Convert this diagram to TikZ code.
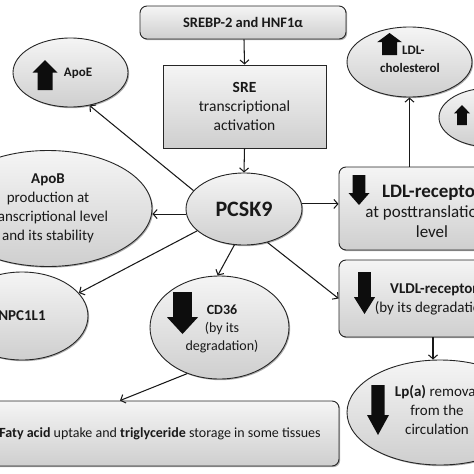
\documentclass[tikz,border=0pt]{standalone}
\usepackage{fontspec}
\setmainfont{Carlito}
\usetikzlibrary{shapes.geometric,arrows.meta,shadows}
\newcommand\fsz[2]{\fontsize{#1}{#2}\selectfont}
\begin{document}
\begin{tikzpicture}[x=1pt,y=-1pt,
  box/.style={draw=black!85, line width=0.9pt, top color=gray!8, bottom color=gray!38,
    drop shadow={shadow xshift=1.2pt,shadow yshift=-1.2pt,opacity=0.45,fill=black!70},
    inner sep=0pt, text=black!90, align=center},
  rbox/.style={box, rounded corners=7pt},
  ell/.style={ellipse, box},
  arr/.style={-{Straight Barb[length=4pt,width=9pt]}, line width=1.05pt, draw=black!90},
  txt/.style={text=black!90, align=center, inner sep=0pt},
  uparr/.pic={\fill[black!95] (0,0) -- (0.5,0.42) -- (0.3,0.42) -- (0.3,1) -- (-0.3,1) -- (-0.3,0.42) -- (-0.5,0.42) -- cycle;},
  dnarr/.pic={\fill[black!95] (0,1) -- (0.5,0.6) -- (0.3,0.6) -- (0.3,0) -- (-0.3,0) -- (-0.3,0.6) -- (-0.5,0.6) -- cycle;}
]
\useasboundingbox (0,0) rectangle (474,474);
\fill[white] (0,0) rectangle (474,474);
\clip (0,0) rectangle (474,474);

% top boxes
\node[rbox, minimum width=206pt, minimum height=33pt, font=\bfseries\fsz{14.5}{17}] (srebp) at (243,22.5) {SREBP-2 and HNF1α};
\node[box, minimum width=163pt, minimum height=83pt, font=\fsz{15.5}{19}] (sre) at (244.5,106.5) {\textbf{SRE}\\transcriptional\\activation};

% PCSK9
\node[ell, minimum width=116pt, minimum height=72pt, font=\bfseries\fsz{22}{26}] (pcsk9) at (244,209) {PCSK9};

% ApoE
\node[ell, minimum width=115pt, minimum height=69pt] (apoe) at (70.5,72.5) {};
\pic[xscale=25,yscale=30] at (45,60) {uparr};
\node[txt, font=\bfseries\fsz{13}{16}] (apoe-t) at (78,73) {ApoE};

% ApoB
\node[ell, minimum width=208pt, minimum height=116pt, font=\fsz{15}{19}] (apob) at (48,208.5) {\textbf{ApoB}\\production at\\transcriptional level\\and its stability};

% NPC1L1
\node[ell, minimum width=132pt, minimum height=88pt, font=\bfseries\fsz{15}{19}] (npc) at (22,316) {NPC1L1};

% CD36
\node[ell, minimum width=139pt, minimum height=103pt] (cd36) at (219.5,327.5) {};
\pic[xscale=31,yscale=42] at (182.5,292) {dnarr};
\node[txt, font=\fsz{14}{18}] (cd36-t) at (222,329) {\textbf{CD36}\\(by its\\degradation)};

% LDL-cholesterol
\node[ell, minimum width=125pt, minimum height=70pt] (ldlc) at (409.5,62) {};
\pic[xscale=25,yscale=22] at (389.5,33) {uparr};
\node[txt, anchor=west, font=\bfseries\fsz{13}{16}] (ldlc-t1) at (402,50) {LDL-};
\node[txt, font=\bfseries\fsz{13}{16}] (ldlc-t2) at (410,68) {cholesterol};

% partial ellipse right
\node[ell, minimum width=102pt, minimum height=59pt] (extra) at (490,117.5) {};
\pic[xscale=16,yscale=20] at (462,105) {uparr};

% LDL receptor
\node[rbox, minimum width=188pt, minimum height=83pt] (ldlr) at (433,208.5) {};
\pic[xscale=21,yscale=30] at (359,175) {dnarr};
\node[txt, font=\fsz{17}{20}] (ldlr-t) at (432,211) {{\bfseries\fsz{19}{20}LDL-receptor}\\at posttranslational\\level};

% VLDL receptor
\node[rbox, minimum width=188pt, minimum height=77pt] (vldl) at (433,298.5) {};
\pic[xscale=21,yscale=42] at (364.5,272) {dnarr};
\node[txt, font=\fsz{15}{19}] (vldl-t) at (434,299) {\textbf{VLDL-receptor}\\(by its degradation)};

% Lp(a)
\node[ell, minimum width=186pt, minimum height=105pt] (lpa) at (440,412.5) {};
\pic[xscale=22,yscale=50] at (378,385) {dnarr};
\node[txt, font=\fsz{15}{19}] (lpa-t) at (437,410) {\textbf{Lp(a)} removal\\from the\\circulation};

% Fatty acid box
\node[rbox, minimum width=358pt, minimum height=65pt, font=\fsz{14}{18}] (fatty) at (160,433.5) {\textbf{Faty acid} uptake and \textbf{triglyceride} storage in some tissues};

% connectors
\draw[arr] (srebp.south -| sre.north) ++(-0.5,0) -- (sre.north);
\draw[arr] (sre.south) -- (pcsk9.north);
\draw[arr] (pcsk9.160) -- (apoe.-60);
\draw[arr] (pcsk9.185) -- (pcsk9.185 -| apob.east);
\draw[arr] (pcsk9.205) -- (npc.22);
\draw[arr] (pcsk9.-105) -- (cd36.92);
\draw[arr] (pcsk9.-55) -- (vldl.west);
\draw[arr] (pcsk9.5) -- (pcsk9.5 -| ldlr.west);
\draw[arr] (ldlr.north -| ldlc.south) -- (ldlc.south);
\draw[arr] (vldl.south) -- (vldl.south |- lpa.north);
\draw[arr] (cd36.235) -- ([xshift=-40pt]fatty.north);
\end{tikzpicture}
\end{document}
